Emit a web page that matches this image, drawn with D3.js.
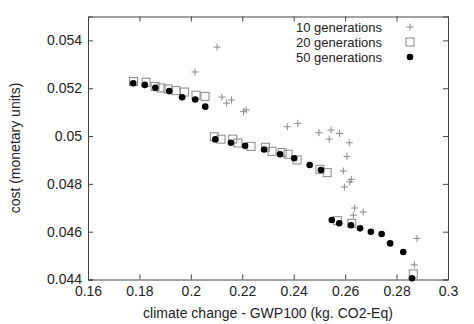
<!DOCTYPE html>
<html>
<head>
<meta charset="utf-8">
<script src="https://cdn.jsdelivr.net/npm/d3@7"></script>
<style>
  body { margin: 0; background: #fff; }
  text { font-family: "Liberation Sans", Arial, sans-serif; fill: #222; }
  .axis path, .axis line { stroke: #444; }
</style>
</head>
<body>
<div id="chart"></div>
<script>
// Pareto fronts after 10, 20 and 50 generations: [GWP100, cost]
var gen10 = [
  [0.2016, 0.05268], [0.2102, 0.05372], [0.2121, 0.05163], [0.2139, 0.05138],
  [0.2158, 0.05151], [0.2205, 0.05102], [0.2215, 0.05109], [0.2375, 0.05039],
  [0.2416, 0.05053], [0.2498, 0.05014], [0.2545, 0.05025], [0.2578, 0.05011],
  [0.2538, 0.04987], [0.2616, 0.04972], [0.2607, 0.04915], [0.2593, 0.04854],
  [0.2624, 0.04819], [0.2618, 0.04808], [0.2597, 0.04787], [0.2637, 0.04699],
  [0.2670, 0.04682], [0.2632, 0.04669], [0.2879, 0.04572], [0.2869, 0.04461]
];
var gen20 = [
  [0.1777, 0.05228], [0.1826, 0.05225], [0.1861, 0.05207], [0.1884, 0.05201],
  [0.1911, 0.05197], [0.1942, 0.05190], [0.1975, 0.05184], [0.2020, 0.05171],
  [0.2055, 0.05166], [0.2091, 0.04997], [0.2117, 0.04987], [0.2163, 0.04987],
  [0.2183, 0.04971], [0.2234, 0.04957], [0.2290, 0.04953], [0.2316, 0.04936],
  [0.2355, 0.04931], [0.2378, 0.04924], [0.2413, 0.04900], [0.2502, 0.04861],
  [0.2530, 0.04847], [0.2570, 0.04646], [0.2626, 0.04635], [0.2865, 0.04423]
];
var gen50 = [
  [0.1776, 0.05221], [0.1821, 0.05214], [0.1862, 0.05202], [0.1916, 0.05188],
  [0.1966, 0.05162], [0.2017, 0.05153], [0.2056, 0.05123], [0.2095, 0.04986],
  [0.2156, 0.04972], [0.2211, 0.04959], [0.2285, 0.04944], [0.2347, 0.04924],
  [0.2402, 0.04907], [0.2462, 0.04879], [0.2506, 0.04858], [0.2548, 0.04649],
  [0.2577, 0.04635], [0.2623, 0.04627], [0.2658, 0.04614], [0.2700, 0.04600],
  [0.2742, 0.04590], [0.2775, 0.04551], [0.2826, 0.04515], [0.2860, 0.04405]
];
var xTicks = [0.16, 0.18, 0.2, 0.22, 0.24, 0.26, 0.28, 0.3];
var yTicks = [0.044, 0.046, 0.048, 0.05, 0.052, 0.054];
var legendLabels = ['10 generations', '20 generations', '50 generations'];

var width = 474, height = 324;
var margin = {top: 16.5, right: 26, bottom: 44.5, left: 88};
var drawWidth = width - margin.left - margin.right;
var drawHeight = height - margin.top - margin.bottom;

var xScale = d3.scaleLinear().domain([0.16, 0.3]).range([0, drawWidth]);
var yScale = d3.scaleLinear().domain([0.044, 0.055]).range([drawHeight, 0]);

var svg = d3.select('#chart').append('svg')
    .attr('width', width)
    .attr('height', height);

var g = svg.append('g')
    .attr('transform', 'translate(' + margin.left + ',' + margin.top + ')');

// Axes, ticks pointing inward, mirrored on top and right
var fmt = function(d) { return String(+d.toFixed(3)); };

g.append('g').attr('class', 'axis x-axis')
    .attr('transform', 'translate(0,' + drawHeight + ')')
    .call(d3.axisBottom(xScale).tickValues(xTicks).tickFormat(fmt).tickSize(-5).tickPadding(7))
    .selectAll('text').style('font-size', '14px');

g.append('g').attr('class', 'axis')
    .call(d3.axisTop(xScale).tickValues(xTicks).tickFormat('').tickSize(-5));

g.append('g').attr('class', 'axis y-axis')
    .call(d3.axisLeft(yScale).tickValues(yTicks).tickFormat(fmt).tickSize(-5).tickPadding(6))
    .selectAll('text').style('font-size', '14px');

g.append('g').attr('class', 'axis')
    .attr('transform', 'translate(' + drawWidth + ',0)')
    .call(d3.axisRight(yScale).tickValues(yTicks).tickFormat('').tickSize(-5));

g.selectAll('.axis path').attr('stroke', '#444');

// Axis titles
svg.append('text')
    .attr('x', margin.left + drawWidth / 2)
    .attr('y', 318)
    .attr('text-anchor', 'middle')
    .style('font-size', '14px')
    .text('climate change - GWP100 (kg. CO2-Eq)');

svg.append('text')
    .attr('transform', 'translate(20,' + (margin.top + drawHeight / 2) + ') rotate(-90)')
    .attr('text-anchor', 'middle')
    .style('font-size', '14px')
    .text('cost (monetary units)');

// Marker helpers
function plus(sel) {
    sel.append('path')
        .attr('d', 'M-3.5,0H3.5M0,-3.5V3.5')
        .attr('stroke', '#888')
        .attr('stroke-width', 1)
        .attr('fill', 'none');
}
function square(sel) {
    sel.append('rect')
        .attr('x', -4).attr('y', -4)
        .attr('width', 8).attr('height', 8)
        .attr('fill', 'none')
        .attr('stroke', '#888')
        .attr('stroke-width', 1);
}
function dot(sel) {
    sel.append('circle')
        .attr('r', 3.3)
        .attr('fill', '#000');
}

var series = [gen10, gen20, gen50];
var markers = [plus, square, dot];

series.forEach(function(data, i) {
    g.append('g').selectAll('g')
        .data(data)
        .enter().append('g')
        .attr('transform', function(d) { return 'translate(' + xScale(d[0]) + ',' + yScale(d[1]) + ')'; })
        .call(markers[i]);
});

// Legend
var legend = svg.append('g').attr('class', 'legend');
legendLabels.forEach(function(label, i) {
    var y = 27 + i * 15;
    legend.append('text')
        .attr('x', 382)
        .attr('y', y)
        .attr('dy', '0.35em')
        .attr('text-anchor', 'end')
        .style('font-size', '13px')
        .text(label);
    legend.append('g')
        .attr('transform', 'translate(410,' + y + ')')
        .call(markers[i]);
});
</script>
</body>
</html>
